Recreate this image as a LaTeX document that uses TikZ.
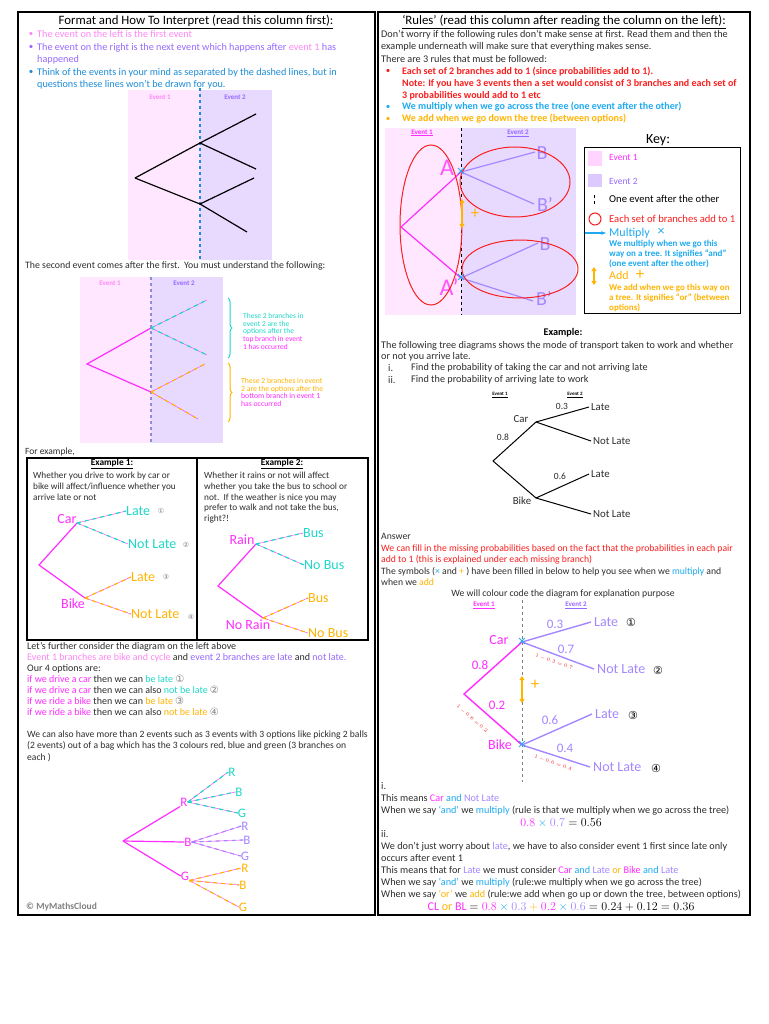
\documentclass[tikz,border=0pt]{standalone}
\usepackage{fontspec}
\setmainfont{Carlito}
\newfontfamily\circfont{DejaVu Sans}
\usetikzlibrary{arrows.meta, positioning, calc, decorations.pathreplacing}
\definecolor{inktext}{RGB}{45,45,45}
\definecolor{magtext}{RGB}{255,45,255}
\definecolor{pinktext}{RGB}{255,135,245}
\definecolor{purptext}{RGB}{150,105,255}
\definecolor{bluetext}{RGB}{30,140,215}
\definecolor{ruleblue}{RGB}{30,170,240}
\definecolor{cyantext}{RGB}{30,215,200}
\definecolor{orangetext}{RGB}{255,180,0}
\definecolor{redtext}{RGB}{250,30,30}
\definecolor{treepurple}{RGB}{165,135,255}
\definecolor{evonefill}{RGB}{255,232,255}
\definecolor{evtwofill}{RGB}{232,218,255}
\definecolor{slateline}{RGB}{140,140,215}
\newcommand{\circnum}[1]{{\circfont\color{gray}#1}}

\begin{document}
\begin{tikzpicture}[
    x=1pt, y=-1pt,
    >=Stealth,
    % outer frames
    frame/.style={draw=black, line width=2.6pt},
    % text blocks and single lines
    body/.style={anchor=north west, inner sep=0pt, align=left, text=inktext,
                 font=\fontsize{10.2}{12}\selectfont},
    line/.style={anchor=west, inner sep=0pt, text=inktext, font=\fontsize{10.2}{12}\selectfont},
    ttl/.style={inner sep=0pt, text=black, font=\fontsize{12.8}{13}\selectfont},
    bul/.style={inner sep=0pt, font=\fontsize{9}{9}\selectfont},
    evlbl/.style={inner sep=0pt, font=\fontsize{7}{7}\selectfont\bfseries},
    % tree labels
    lab14/.style={inner sep=0pt, font=\fontsize{14}{14}\selectfont},
    lab13/.style={inner sep=0pt, font=\fontsize{13}{13}\selectfont},
    lab10/.style={inner sep=0pt, text=inktext, font=\fontsize{10.8}{10.8}\selectfont},
    % branches
    plain/.style={draw=black, line width=1.2pt},
    branch/.style={draw=magtext, line width=1.2pt},
    pbranch/.style={draw=treepurple, line width=1.2pt},
    twotone/.style={draw=#1, line width=1.2pt, dash pattern=on 4pt off 4pt,
                    preaction={draw=magtext, solid}},
    dbl/.style={orangetext, line width=1.6pt,
                {Triangle[width=5pt,length=4pt]}-{Triangle[width=5pt,length=4pt]}},
    mult/.style={inner sep=0pt, text=ruleblue, font=\fontsize{16}{16}\selectfont},
    plus/.style={inner sep=0pt, text=orangetext, font=\fontsize{17}{17}\selectfont},
    rednote/.style={inner sep=0pt, text=redtext, font=\fontsize{4.6}{5}\selectfont},
]
\fill[white] (0,0) rectangle (768,1024);
\useasboundingbox (0,0) rectangle (768,1024);

% ===================== Left column =====================
\draw[frame] (18,12) rectangle (375,915);
\node[ttl] (ltitle) at (196,22) {\underline{Format and How To Interpret (read this column first):}};

\node[bul, text=pinktext] (lb1) at (31,34) {•};
\node[bul, text=purptext] (lb2) at (31,47) {•};
\node[bul, text=bluetext] (lb3) at (31,72) {•};
\node[body, font=\fontsize{10.2}{12.5}\selectfont] (lintro) at (37,30.5) {%
\textcolor{pinktext}{The event on the left is the first event}\\
\textcolor{purptext}{The event on the right is the next event which happens after \textcolor{pinktext}{event 1} has}\\
\textcolor{purptext}{happened}\\
\textcolor{bluetext}{Think of the events in your mind as separated by the dashed lines, but in}\\
\textcolor{bluetext}{questions these lines won't be drawn for you.}};

% plain tree
\fill[evonefill] (128,90) rectangle (200,260);
\fill[evtwofill] (200,90) rectangle (272,260);
\draw[bluetext, dashed, line width=1.2pt] (200,88) -- (200,262);
\node[evlbl, text=pinktext] (fa-e1) at (160,97) {Event 1};
\node[evlbl, text=purptext] (fa-e2) at (235,97) {Event 2};
\coordinate (fa-r) at (135,178);
\coordinate (fa-u) at (200,143);
\coordinate (fa-d) at (200,204);
\coordinate (fa-1) at (256,114);
\coordinate (fa-2) at (256,169);
\coordinate (fa-3) at (254,178);
\coordinate (fa-4) at (247,232);
\foreach \s/\t in {fa-r/fa-u, fa-r/fa-d, fa-u/fa-1, fa-u/fa-2, fa-d/fa-3, fa-d/fa-4}{
    \draw[plain] (\s) -- (\t);
}

\node[line, font=\fontsize{9.8}{12}\selectfont] (lsecond) at (25,266) {The second event comes after the first.\ \ You must understand the following:};

% coloured tree with braces
\fill[evonefill] (80,277) rectangle (151,443);
\fill[evtwofill] (151,277) rectangle (223,443);
\draw[slateline, dashed, line width=1.2pt] (151,277) -- (151,443);
\node[evlbl, text=pinktext] (fb-e1) at (110,283) {Event 1};
\node[evlbl, text=purptext] (fb-e2) at (184,283) {Event 2};
\coordinate (fb-r) at (87,364);
\coordinate (fb-u) at (151,328);
\coordinate (fb-d) at (151,392);
\coordinate (fb-1) at (207,300);
\coordinate (fb-2) at (207,355);
\coordinate (fb-3) at (205,364);
\coordinate (fb-4) at (198,419);
\draw[branch] (fb-u) -- (fb-r) -- (fb-d);
\foreach \t in {fb-1,fb-2}{ \draw[twotone=cyantext] (fb-u) -- (\t); }
\foreach \t in {fb-3,fb-4}{ \draw[twotone=orangetext] (fb-d) -- (\t); }

\draw[cyantext, line width=1pt, decorate, decoration={brace, amplitude=4pt}] (228,298) -- (228,358);
\draw[orangetext, line width=1pt, decorate, decoration={brace, amplitude=4pt}] (228,363) -- (228,422);
\node[body, font=\fontsize{7.5}{7.7}\selectfont] (fb-top) at (243,313) {%
\textcolor{cyantext}{These 2 branches in}\\
\textcolor{cyantext}{event 2 are the}\\
\textcolor{cyantext}{options after the}\\
\textcolor{magtext}{top branch in event}\\
\textcolor{magtext}{1 has occurred}};
\node[body, font=\fontsize{7.7}{7.5}\selectfont] (fb-bot) at (241,378) {%
\textcolor{orangetext}{These 2 branches in event}\\
\textcolor{orangetext}{2 are the options after the}\\
\textcolor{magtext}{bottom branch in event 1}\\
\textcolor{magtext}{has occurred}};

\node[line, font=\fontsize{9.5}{12}\selectfont] (lforex) at (25,452) {For example,};

% ===================== Examples box =====================
\draw[line width=1.2pt] (27,458) rectangle (368,640);
\draw[line width=1.2pt] (197,458) -- (197,640);
\node[inner sep=0pt, font=\fontsize{9.3}{9}\selectfont\bfseries] (ex1t) at (112,464) {\underline{Example 1:}};
\node[inner sep=0pt, font=\fontsize{9.3}{9}\selectfont\bfseries] (ex2t) at (282,464) {\underline{Example 2:}};
\node[body, font=\fontsize{9.3}{10.7}\selectfont] (ex1txt) at (33,472) {%
Whether you drive to work by car or\\
bike will affect/influence whether you\\
arrive late or not};
\node[body, font=\fontsize{9.3}{10.7}\selectfont] (ex2txt) at (204,472) {%
Whether it rains or not will affect\\
whether you take the bus to school or\\
not.\ \ If the weather is nice you may\\
prefer to walk and not take the bus,\\
right?!};

% example 1 tree
\coordinate (e1-r) at (39,565);
\coordinate (e1-car) at (77,523);
\coordinate (e1-bike) at (85,598);
\node[lab14, text=magtext] (e1-carl) at (67,519) {Car};
\node[lab14, text=magtext] (e1-bikel) at (73,604) {Bike};
\node[lab14, text=cyantext, anchor=west] (e1-a) at (126,511) {Late};
\node[lab14, text=cyantext, anchor=west] (e1-b) at (128,544) {Not Late};
\node[lab14, text=orangetext, anchor=west] (e1-c) at (131,577) {Late};
\node[lab14, text=orangetext, anchor=west] (e1-d) at (131,614) {Not Late};
\draw[branch] (e1-car) -- (e1-r) -- (e1-bike);
\draw[twotone=cyantext] (e1-car) -- (e1-a.west);
\draw[twotone=cyantext] (e1-car) -- (e1-b.west);
\draw[twotone=orangetext] (e1-bike) -- (e1-c.west);
\draw[twotone=orangetext] (e1-bike) -- (e1-d.west);
\node[inner sep=0pt, font=\fontsize{7}{7}\selectfont] (e1-n1) at (161,511) {\circnum{①}};
\node[inner sep=0pt, font=\fontsize{7}{7}\selectfont] (e1-n2) at (186,545) {\circnum{②}};
\node[inner sep=0pt, font=\fontsize{7}{7}\selectfont] (e1-n3) at (166,577) {\circnum{③}};
\node[inner sep=0pt, font=\fontsize{7}{7}\selectfont] (e1-n4) at (191,617) {\circnum{④}};

% example 2 tree
\coordinate (e2-r) at (218,586);
\coordinate (e2-rain) at (256,544);
\coordinate (e2-dry) at (263,618);
\node[lab14, text=magtext] (e2-rainl) at (242,540) {Rain};
\node[lab14, text=magtext] (e2-dryl) at (248,625) {No Rain};
\node[lab14, text=cyantext, anchor=west] (e2-a) at (303,533) {Bus};
\node[lab14, text=cyantext, anchor=west] (e2-b) at (304,565) {No Bus};
\node[lab14, text=orangetext, anchor=west] (e2-c) at (308,598) {Bus};
\node[lab14, text=orangetext, anchor=west] (e2-d) at (308,633) {No Bus};
\draw[branch] (e2-rain) -- (e2-r) -- (e2-dry);
\draw[twotone=cyantext] (e2-rain) -- (e2-a.west);
\draw[twotone=cyantext] (e2-rain) -- (e2-b.west);
\draw[twotone=orangetext] (e2-dry) -- (e2-c.west);
\draw[twotone=orangetext] (e2-dry) -- (e2-d.west);

% ===================== Options text =====================
\node[body, font=\fontsize{10}{11.1}\selectfont] (lopts) at (27,642) {%
Let's further consider the diagram on the left above\\
\textcolor{pinktext}{Event 1 branches are bike and cycle} and \textcolor{purptext}{event 2 branches are late} and \textcolor{purptext}{not late.}\\
Our 4 options are:\\
\textcolor{magtext}{if we drive a car} then we can \textcolor{cyantext}{be late} \circnum{①}\\
\textcolor{magtext}{if we drive a car} then we can also \textcolor{cyantext}{not be late} \circnum{②}\\
\textcolor{magtext}{if we ride a bike} then we can \textcolor{orangetext}{be late} \circnum{③}\\
\textcolor{magtext}{if we ride a bike} then we can also \textcolor{orangetext}{not be late} \circnum{④}};
\node[body, font=\fontsize{9.6}{11.1}\selectfont] (lmore) at (27,731) {%
We can also have more than 2 events such as 3 events with 3 options like picking 2 balls\\
(2 events) out of a bag which has the 3 colours red, blue and green (3 branches on\\
each )};

% three-branch tree
\coordinate (fc-r) at (123,841);
\node[lab13, text=magtext] (fc-R) at (184,802) {R};
\node[lab13, text=magtext] (fc-B) at (188,842) {B};
\node[lab13, text=magtext] (fc-G) at (185,876) {G};
\node[lab13, text=cyantext] (fc-RR) at (232,772) {R};
\node[lab13, text=cyantext] (fc-RB) at (239,792) {B};
\node[lab13, text=cyantext] (fc-RG) at (242,813) {G};
\node[lab13, text=treepurple] (fc-BR) at (245,826) {R};
\node[lab13, text=treepurple] (fc-BB) at (247,840) {B};
\node[lab13, text=treepurple] (fc-BG) at (245,856) {G};
\node[lab13, text=orangetext] (fc-GR) at (245,868) {R};
\node[lab13, text=orangetext] (fc-GB) at (243,885) {B};
\node[lab13, text=orangetext] (fc-GG) at (243,907) {G};
\draw[branch] (fc-r) -- (fc-R.south west);
\draw[branch] (fc-r) -- (fc-B.west);
\draw[branch] (fc-r) -- (fc-G.west);
\foreach \t in {fc-RR,fc-RB,fc-RG}{ \draw[twotone=cyantext] (fc-R.east) -- (\t.west); }
\foreach \t in {fc-BR,fc-BB,fc-BG}{ \draw[twotone=treepurple] (fc-B.east) -- (\t.west); }
\foreach \t in {fc-GR,fc-GB,fc-GG}{ \draw[twotone=orangetext] (fc-G.south east) -- (\t.west); }

\node[line, text=gray, font=\fontsize{9.5}{9}\selectfont\bfseries] (copy) at (26,907) {© MyMathsCloud};

% ===================== Right column =====================
\draw[frame] (378,12) rectangle (750,915);
\node[ttl] (rtitle) at (564,22) {\underline{`Rules' (read this column after reading the column on the left):}};
\node[body, font=\fontsize{10.2}{12.4}\selectfont] (rintro) at (381,30) {%
Don't worry if the following rules don't make sense at first. Read them and then the\\
example underneath will make sure that everything makes sense.\\
There are 3 rules that must be followed:};
\node[bul, text=redtext] (rb1) at (388,71) {•};
\node[bul, text=ruleblue] (rb2) at (388,107) {•};
\node[bul, text=orangetext] (rb3) at (388,119) {•};
\node[body, text=redtext, font=\fontsize{10}{12}\selectfont\bfseries] (rrule1) at (402,66.5) {%
Each set of 2 branches add to 1 (since probabilities add to 1).\\
Note: If you have 3 events then a set would consist of 3 branches and each set of\\
3 probabilities would add to 1 etc};
\node[line, text=ruleblue, font=\fontsize{10}{12}\selectfont\bfseries] (rrule2) at (402,107) {We multiply when we go across the tree (one event after the other)};
\node[line, text=orangetext, font=\fontsize{10}{12}\selectfont\bfseries] (rrule3) at (402,119) {We add when we go down the tree (between options)};

% rules tree
\fill[evonefill] (385,128) rectangle (461,315);
\fill[evtwofill] (461,128) rectangle (576,315);
\draw[black, dashed, line width=1pt] (461,128) -- (461,315);
\node[evlbl, text=magtext] (ra-e1) at (422,133) {\underline{Event 1}};
\node[evlbl, text=purptext] (ra-e2) at (518,133) {\underline{Event 2}};
\coordinate (ra-r) at (401,227);
\coordinate (ra-a) at (461,172);
\coordinate (ra-a2) at (461,278);
\coordinate (ra-1) at (535,152);
\coordinate (ra-2) at (534,204);
\coordinate (ra-3) at (538,243);
\coordinate (ra-4) at (533,301);
\draw[branch] (ra-a) -- (ra-r) -- (ra-a2);
\foreach \s/\t in {ra-a/ra-1, ra-a/ra-2, ra-a2/ra-3, ra-a2/ra-4}{
    \draw[pbranch] (\s) -- (\t);
}
\node[inner sep=0pt, text=magtext!80, font=\fontsize{24}{24}\selectfont] (ra-al) at (447,168) {A};
\node[inner sep=0pt, text=magtext!80, font=\fontsize{24}{24}\selectfont] (ra-a2l) at (449,287) {A'};
\node[inner sep=0pt, text=treepurple, font=\fontsize{20}{20}\selectfont] (ra-b1) at (542,153) {B};
\node[inner sep=0pt, text=treepurple, font=\fontsize{20}{20}\selectfont] (ra-b2) at (545,204) {B'};
\node[inner sep=0pt, text=treepurple, font=\fontsize{20}{20}\selectfont] (ra-b3) at (545,244) {B};
\node[inner sep=0pt, text=treepurple, font=\fontsize{20}{20}\selectfont] (ra-b4) at (544,298) {B'};
\draw[redtext, line width=1pt] (431,225) ellipse [x radius=31, y radius=80];
\draw[redtext, line width=1pt] (515,182) ellipse [x radius=55, y radius=35];
\draw[redtext, line width=1pt] (520,269) ellipse [x radius=58, y radius=29];
\node[mult] (ra-xa) at (ra-a) {×};
\node[mult] (ra-xb) at (ra-a2) {×};
\coordinate (ra-up) at (462,199);
\coordinate (ra-dn) at (462,228);
\draw[dbl] (ra-up) -- (ra-dn);
\node[plus] (ra-plus) at (475,214) {+};

% key
\node[inner sep=0pt, font=\fontsize{14}{14}\selectfont] (keyt) at (658,140) {Key:};
\draw[line width=1pt] (584,148) rectangle (740,313);
\fill[evonefill!80!magenta!60] (588,151) rectangle (602,166);
\fill[evtwofill!85!purptext] (588,174) rectangle (602,187);
\node[line, text=magtext, font=\fontsize{9.5}{9}\selectfont] (k1) at (609,157) {Event 1};
\node[line, text=purptext, font=\fontsize{9.5}{9}\selectfont] (k2) at (609,181) {Event 2};
\draw[black, dashed, line width=1pt] (594,195) -- (594,205);
\node[line, text=black, font=\fontsize{10.6}{10}\selectfont] (k3) at (609,199) {One event after the other};
\draw[redtext, line width=1pt] (595,219) circle (6);
\node[line, text=redtext, font=\fontsize{10.6}{10}\selectfont] (k4) at (609,219) {Each set of branches add to 1};
\node[line, text=ruleblue, font=\fontsize{12}{12}\selectfont] (k5) at (609,233) {Multiply};
\coordinate (k-arr) at (585,233);
\draw[ruleblue, line width=1.4pt, -{Stealth[length=5pt]}, shorten >=3pt] (k-arr) -- (k5.west);
\node[mult, font=\fontsize{14}{14}\selectfont] (k5x) at (661,232) {×};
\node[body, text=ruleblue, font=\fontsize{9}{10}\selectfont\bfseries] (k5txt) at (609,239.5) {%
We multiply when we go this\\
way on a tree. It signifies ``and''\\
(one event after the other)};
\coordinate (k-up) at (594,267);
\coordinate (k-dn) at (594,285);
\draw[dbl] (k-up) -- (k-dn);
\node[line, text=orangetext, font=\fontsize{12}{12}\selectfont] (k6) at (609,275) {Add};
\node[plus] (k6p) at (640,275) {+};
\node[body, text=orangetext, font=\fontsize{9}{10}\selectfont\bfseries] (k6txt) at (609,283.5) {%
We add when we go this way on\\
a tree. It signifies ``or'' (between\\
options)};

% ===================== Example =====================
\node[inner sep=0pt, font=\fontsize{10.2}{9}\selectfont\bfseries] (rext) at (563,333) {Example:};
\node[body, font=\fontsize{10.2}{11.5}\selectfont] (rextxt) at (381,341) {%
The following tree diagrams shows the mode of transport taken to work and whether\\
or not you arrive late.};
\node[line] (q1n) at (388,368) {i.};
\node[line] (q1) at (411,368) {Find the probability of taking the car and not arriving late};
\node[line] (q2n) at (388,380) {ii.};
\node[line] (q2) at (411,380) {Find the probability of arriving late to work};

% black tree
\node[inner sep=0pt, font=\fontsize{5}{5}\selectfont\bfseries] (bt-e1) at (500,395) {\underline{Event 1}};
\node[inner sep=0pt, font=\fontsize{5}{5}\selectfont\bfseries] (bt-e2) at (575,395) {\underline{Event 2}};
\coordinate (bt-r) at (493,461);
\coordinate (bt-car) at (536,422);
\coordinate (bt-bike) at (536,498);
\node[lab10] (bt-carl) at (521,419) {Car};
\node[lab10] (bt-bikel) at (522,501) {Bike};
\node[lab10, anchor=west] (bt-a) at (591,407) {Late};
\node[lab10, anchor=west] (bt-b) at (593,441) {Not Late};
\node[lab10, anchor=west] (bt-c) at (591,474) {Late};
\node[lab10, anchor=west] (bt-d) at (593,514) {Not Late};
\draw[plain, line width=1pt] (bt-car) -- (bt-r) -- (bt-bike);
\draw[plain, line width=1pt] (bt-car) -- ([xshift=-2pt]bt-a.west);
\draw[plain, line width=1pt] (bt-car) -- ([xshift=-2pt]bt-b.west);
\draw[plain, line width=1pt] (bt-bike) -- ([xshift=-2pt]bt-c.west);
\draw[plain, line width=1pt] (bt-bike) -- ([xshift=-2pt]bt-d.west);
\node[lab10, font=\fontsize{9.5}{9}\selectfont] (bt-p1) at (503,437) {0.8};
\node[lab10, font=\fontsize{9.5}{9}\selectfont] (bt-p2) at (562,406) {0.3};
\node[lab10, font=\fontsize{9.5}{9}\selectfont] (bt-p3) at (560,476) {0.6};

% ===================== Answer =====================
\node[body, font=\fontsize{9.7}{11.6}\selectfont] (ans) at (381,533) {%
Answer\\
\textcolor{redtext}{We can fill in the missing probabilities based on the fact that the probabilities in each pair}\\
\textcolor{redtext}{add to 1 (this is explained under each missing branch)}\\
The symbols (\textcolor{ruleblue}{×} and \textcolor{orangetext}{+} ) have been filled in below to help you see when we \textcolor{ruleblue}{multiply} and\\
when we \textcolor{orangetext}{add}};
\node[inner sep=0pt, text=inktext, font=\fontsize{9.7}{9}\selectfont] (anscol) at (563,594) {We will colour code the diagram for explanation purpose};

% colour coded tree
\node[evlbl, text=magtext] (ct-e1) at (484,605) {\underline{Event 1}};
\node[evlbl, text=purptext] (ct-e2) at (576,605) {\underline{Event 2}};
\draw[gray, dashed, line width=1pt] (522,600) -- (522,782);
\coordinate (ct-r) at (464,694);
\coordinate (ct-car) at (522,642);
\coordinate (ct-bike) at (522,745);
\node[lab14, text=magtext] (ct-carl) at (499,640) {Car};
\node[lab14, text=magtext] (ct-bikel) at (500,745) {Bike};
\node[lab14, text=treepurple, anchor=west] (ct-a) at (594,622) {Late};
\node[lab14, text=treepurple, anchor=west] (ct-b) at (597,669) {Not Late};
\node[lab14, text=treepurple, anchor=west] (ct-c) at (595,714) {Late};
\node[lab14, text=treepurple, anchor=west] (ct-d) at (593,767) {Not Late};
\draw[branch, line width=1.4pt] (ct-car) -- (ct-r) -- (ct-bike);
\draw[pbranch, line width=1.4pt] (ct-car) -- ([xshift=-3pt]ct-a.west);
\draw[pbranch, line width=1.4pt] (ct-car) -- ([xshift=-3pt]ct-b.west);
\draw[pbranch, line width=1.4pt] (ct-bike) -- ([xshift=-3pt]ct-c.west);
\draw[pbranch, line width=1.4pt] (ct-bike) -- ([xshift=-3pt]ct-d.west);
\node[lab13, text=magtext] (ct-p1) at (480,665) {0.8};
\node[lab13, text=magtext] (ct-p2) at (497,705) {0.2};
\node[lab13, text=treepurple] (ct-p3) at (555,624) {0.3};
\node[lab13, text=treepurple] (ct-p4) at (566,649) {0.7};
\node[lab13, text=treepurple] (ct-p5) at (550,720) {0.6};
\node[lab13, text=treepurple] (ct-p6) at (565,748) {0.4};
\node[rednote, rotate=-41] (ct-n1) at (472,719) {$1-0.8=0.2$};
\node[rednote, rotate=-20] (ct-n2) at (554,662) {$1-0.3=0.7$};
\node[rednote, rotate=-20] (ct-n3) at (553,763) {$1-0.6=0.4$};
\node[inner sep=0pt, font=\fontsize{11}{11}\selectfont] (ct-c1) at (631,622) {{\circfont ①}};
\node[inner sep=0pt, font=\fontsize{11}{11}\selectfont] (ct-c2) at (658,670) {{\circfont ②}};
\node[inner sep=0pt, font=\fontsize{11}{11}\selectfont] (ct-c3) at (633,715) {{\circfont ③}};
\node[inner sep=0pt, font=\fontsize{11}{11}\selectfont] (ct-c4) at (656,768) {{\circfont ④}};
\node[mult] (ct-xa) at (ct-car) {×};
\node[mult] (ct-xb) at (ct-bike) {×};
\coordinate (ct-up) at (522,676);
\coordinate (ct-dn) at (522,703);
\draw[dbl] (ct-up) -- (ct-dn);
\node[plus] (ct-plus) at (535,685) {+};

% ===================== Working =====================
\node[body, font=\fontsize{10.2}{12}\selectfont] (wk1) at (381,782) {%
i.\\
This means \textcolor{magtext}{Car} \textcolor{ruleblue}{and} \textcolor{treepurple}{Not Late}\\
When we say \textcolor{ruleblue}{`and'} we \textcolor{ruleblue}{multiply} (rule is that we multiply when we go across the tree)};
\node[inner sep=0pt, font=\fontsize{12}{12}\selectfont] (wkf1) at (561,823)
  {${\color{magtext}0.8}\mathbin{\color{ruleblue}\times}{\color{treepurple}0.7}=0.56$};
\node[body, font=\fontsize{10.2}{12}\selectfont] (wk2) at (381,830) {%
ii.\\
We don't just worry about \textcolor{treepurple}{late}, we have to also consider event 1 first since late only\\
occurs after event 1\\
This means that for \textcolor{treepurple}{Late} we must consider \textcolor{magtext}{Car} \textcolor{ruleblue}{and} \textcolor{treepurple}{Late} \textcolor{orangetext}{or} \textcolor{magtext}{Bike} \textcolor{ruleblue}{and} \textcolor{treepurple}{Late}\\
When we say \textcolor{ruleblue}{`and'} we \textcolor{ruleblue}{multiply} (rule:we multiply when we go across the tree)\\
When we say \textcolor{orangetext}{`or'} we \textcolor{orangetext}{add} (rule:we add when go up or down the tree, between options)};
\node[inner sep=0pt, font=\fontsize{12}{12}\selectfont] (wkf2) at (561,907)
  {\textcolor{magtext}{CL} \textcolor{orangetext}{or} \textcolor{magtext}{BL} $=
   {\color{magtext}0.8}\mathbin{\color{ruleblue}\times}{\color{treepurple}0.3}
   \mathbin{\color{orangetext}+}{\color{magtext}0.2}\mathbin{\color{ruleblue}\times}{\color{treepurple}0.6}
   =0.24+0.12=0.36$};

\end{tikzpicture}
\end{document}
